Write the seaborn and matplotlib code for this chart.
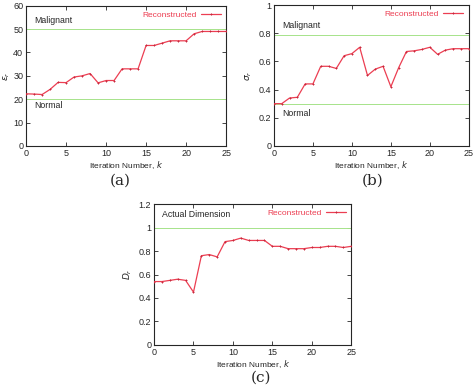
import numpy as np
import pandas as pd
import seaborn as sns
import matplotlib.pyplot as plt

# data
k = list(range(26))
eps_r = [22.3, 22.2, 22.0, 24.2, 27.2, 27.1, 29.5, 30.0, 31.0, 27.0, 28.0, 28.0, 33.0,
         33.0, 33.0, 43.0, 43.0, 44.0, 45.0, 45.0, 45.0, 48.0, 49.0, 49.0, 49.0, 49.0]
sigma_r = [0.30, 0.30, 0.34, 0.345, 0.44, 0.44, 0.565, 0.565, 0.55, 0.64, 0.655, 0.70, 0.50,
           0.545, 0.565, 0.42, 0.555, 0.67, 0.675, 0.685, 0.70, 0.65, 0.68, 0.69, 0.69, 0.69]
d_r = [0.54, 0.54, 0.55, 0.56, 0.55, 0.45, 0.76, 0.77, 0.75, 0.88, 0.89, 0.91, 0.89,
       0.89, 0.89, 0.84, 0.84, 0.82, 0.82, 0.82, 0.83, 0.83, 0.84, 0.84, 0.83, 0.84]

eps_ref = {"Malignant": 50, "Normal": 20}
sigma_ref = {"Malignant": 0.79, "Normal": 0.30}
d_ref = {"Actual Dimension": 1.0}

sns.set_style("ticks")
plt.rcParams['font.family'] = ['Liberation Sans', 'DejaVu Sans']
plt.rcParams['mathtext.fontset'] = 'dejavusans'

RED = "#ec3e52"
GREEN = "#a6e38a"

fig = plt.figure(figsize=(4.74, 3.85), dpi=100)


def panel(rect, y, ylabel, ylim, yticks, refs, ref_text_pos, tag, tag_pos, ypad):
    ax = fig.add_axes(rect)
    df = pd.DataFrame({"k": k, "v": y})
    for val in refs.values():
        ax.axhline(val, color=GREEN, lw=0.7, zorder=1)
    sns.lineplot(data=df, x="k", y="v", ax=ax, color=RED, lw=0.9,
                 marker="+", markersize=1.8, markeredgewidth=0.7,
                 markeredgecolor="#c8283c", label="Reconstructed", zorder=3)
    for name, (tx, ty) in zip(refs.keys(), ref_text_pos):
        ax.text(tx, ty, name, fontsize=6.3, va="center", ha="left")
    ax.set_xlim(0, 25)
    ax.set_ylim(*ylim)
    ax.set_xticks([0, 5, 10, 15, 20, 25])
    ax.set_yticks(yticks)
    ax.set_yticklabels([f"{t:g}" for t in yticks])
    ax.tick_params(direction="in", top=True, right=True, labelsize=6.5,
                   length=3, width=0.6, pad=2)
    for s in ax.spines.values():
        s.set_linewidth(0.8)
    ax.set_xlabel("Iteration Number, $k$", fontsize=6, labelpad=1)
    ax.set_ylabel(ylabel, fontsize=6.5, labelpad=ypad)
    ax.legend(loc="upper right", frameon=False, fontsize=6,
              markerfirst=False, handlelength=2.4, handletextpad=0.5,
              borderaxespad=0.25, labelcolor=RED)
    fig.text(tag_pos[0], tag_pos[1], tag, fontsize=11, family="DejaVu Serif",
             ha="center", va="center")
    return ax


panel([0.055, 0.621, 0.422, 0.364], eps_r, r"$\varepsilon_r$", (0, 60),
      [0, 10, 20, 30, 40, 50, 60], eps_ref, [(1.0, 53.5), (1.0, 17.5)],
      "(a)", (0.253, 0.532), 1)
panel([0.578, 0.621, 0.411, 0.366], sigma_r, r"$\sigma_r$", (0, 1),
      [0, 0.2, 0.4, 0.6, 0.8, 1], sigma_ref, [(1.0, 0.855), (1.0, 0.23)],
      "(b)", (0.787, 0.532), 3)
panel([0.325, 0.104, 0.416, 0.366], d_r, r"$D_r$", (0, 1.2),
      [0, 0.2, 0.4, 0.6, 0.8, 1, 1.2], d_ref, [(1.0, 1.11)],
      "(c)", (0.551, 0.018), 3)

fig.savefig("out.png", dpi=100)
